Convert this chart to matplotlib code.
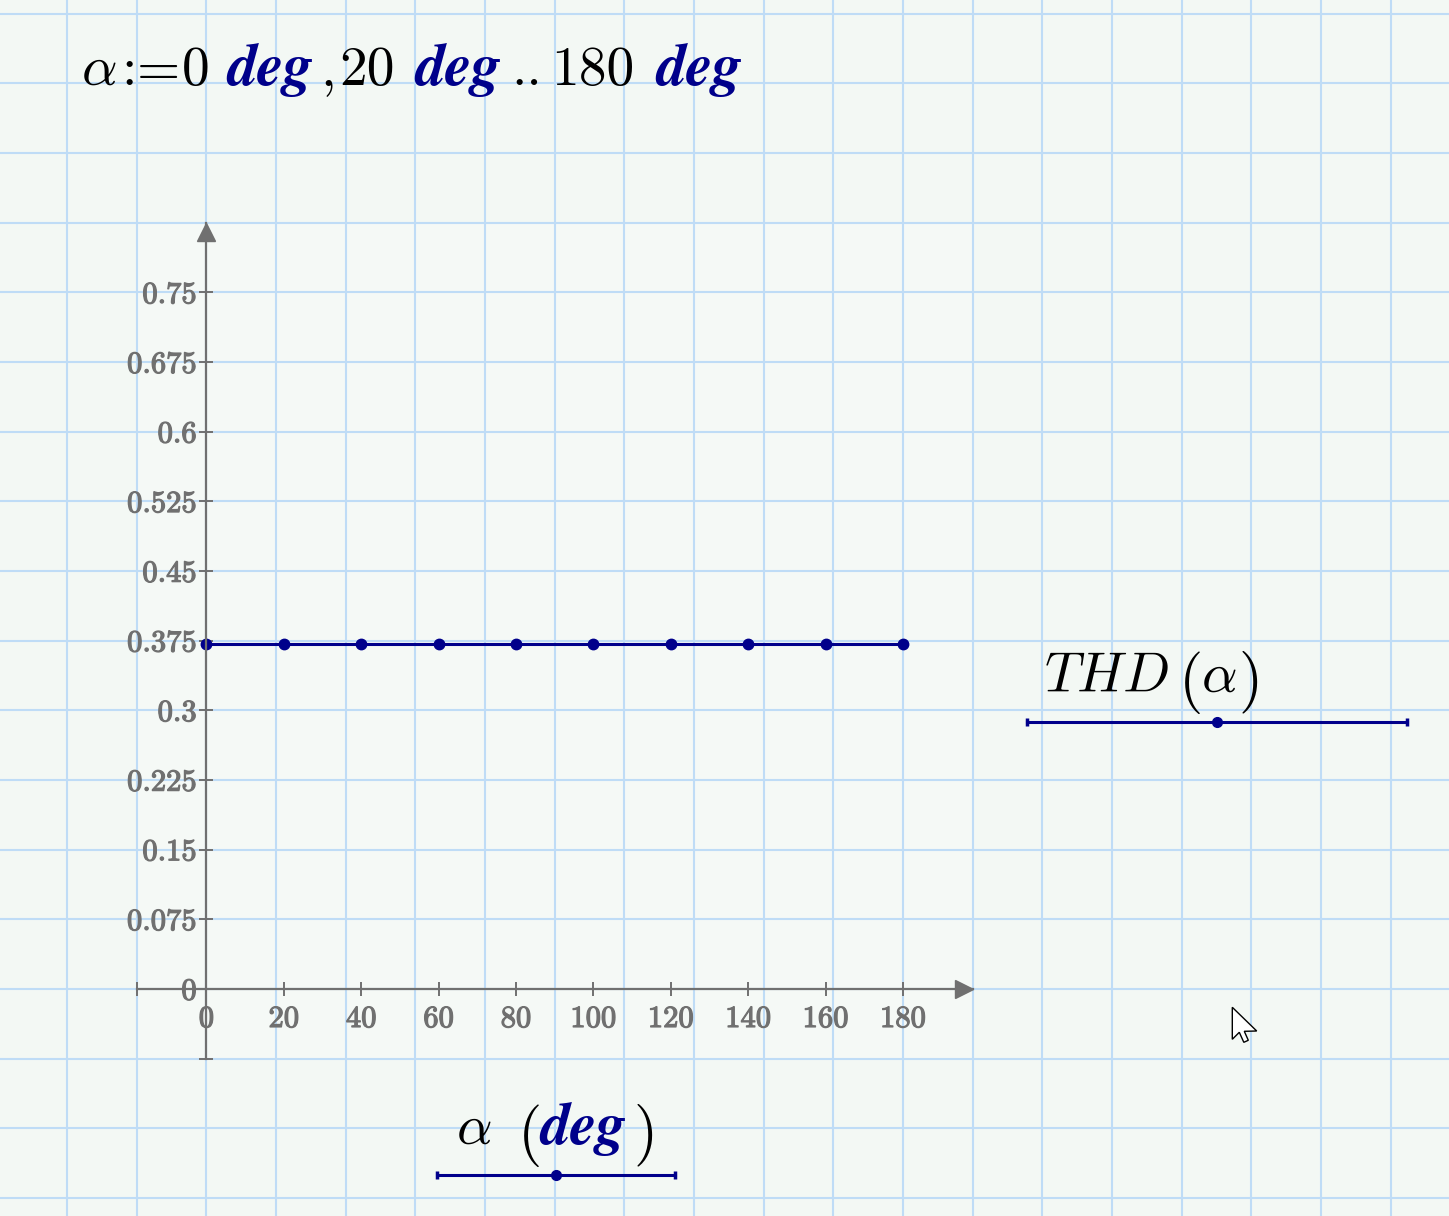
import numpy as np
import matplotlib.pyplot as plt
import matplotlib.patheffects as pe
from matplotlib.patches import Polygon, Rectangle

plt.rcParams['mathtext.fontset'] = 'cm'

# data
alpha_deg = [0, 20, 40, 60, 80, 100, 120, 140, 160, 180]
thd = [0.371, 0.371, 0.371, 0.371, 0.371, 0.371, 0.371, 0.371, 0.371, 0.371]
x_ticks = [0, 20, 40, 60, 80, 100, 120, 140, 160, 180]
y_ticks = [0, 0.075, 0.15, 0.225, 0.3, 0.375, 0.45, 0.525, 0.6, 0.675, 0.75]
y_tick_labels = ['0', '0.075', '0.15', '0.225', '0.3', '0.375', '0.45',
                 '0.525', '0.6', '0.675', '0.75']

# colours
page = '#f3f8f4'
plot_bg = '#f5f9f6'
grid_c = '#bfdcf6'
navy = '#00008b'
gray = '#707070'

W, H = 1449, 1216
cell = 69.65

fig = plt.figure(figsize=(W / 100, H / 100), dpi=100, facecolor=page)

# worksheet background in pixel coordinates
bg = fig.add_axes([0, 0, 1, 1])
bg.set_xlim(0, W)
bg.set_ylim(H, 0)
bg.axis('off')
bg.vlines(np.arange(-2.5, W, cell), 0, H, color=grid_c, lw=1.5)
bg.hlines(np.arange(13.75, H, cell), 0, W, color=grid_c, lw=1.5)
bg.add_patch(Rectangle((137.3, 224), 837, 835, fc=plot_bg, ec='none'))

# plot region
left, top = 136.8, 222.7
size = 12 * cell
ax = fig.add_axes([left / W, 1 - (top + size) / H, size / W, size / H])
ax.patch.set_alpha(0)
ax.set_xlim(-18, 198)
ax.set_ylim(-0.075, 0.825)

for s in ['top', 'right']:
    ax.spines[s].set_visible(False)
for s in ['left', 'bottom']:
    ax.spines[s].set_position(('data', 0))
    ax.spines[s].set_color(gray)
    ax.spines[s].set_linewidth(1.6)

ax.set_xticks(x_ticks)
ax.set_xticklabels([str(v) for v in x_ticks])
ax.set_yticks(y_ticks)
ax.set_yticklabels(y_tick_labels)
ax.tick_params(direction='inout', length=10, width=1.4, color=gray,
               labelcolor=gray, labelsize=22)
ax.tick_params(axis='x', pad=7)
ax.tick_params(axis='y', pad=2)
for lbl in ax.get_xticklabels() + ax.get_yticklabels():
    lbl.set_fontfamily('cmr10')
    lbl.set_path_effects([pe.withStroke(linewidth=0.9, foreground=gray)])

# axis arrows and end caps
ax.plot(1 - 9 / size, 0, '>', ms=13, color=gray,
        transform=ax.get_yaxis_transform(), clip_on=False)
ax.plot(0, 1 - 9 / size, '^', ms=13, color=gray,
        transform=ax.get_xaxis_transform(), clip_on=False)
ax.plot(0, 0, '|', ms=10, mew=1.4, color=gray,
        transform=ax.get_yaxis_transform(), clip_on=False)
ax.plot(0, 0, '_', ms=10, mew=1.4, color=gray,
        transform=ax.get_xaxis_transform(), clip_on=False)

ax.plot(alpha_deg, thd, color=navy, lw=2.2, marker='o', ms=7.5, zorder=2)

# worksheet text, drawn over everything
top_ax = fig.add_axes([0, 0, 1, 1])
top_ax.set_xlim(0, W)
top_ax.set_ylim(H, 0)
top_ax.axis('off')
top_ax.patch.set_alpha(0)


def black(x, y, s, fs=40):
    top_ax.text(x, y, s, color='black', fontsize=fs, va='baseline',
                ha='left', family='cmr10')


def unit(x, y, s='deg'):
    top_ax.text(x, y, s, color=navy, fontsize=43, va='baseline', ha='left',
                family='STIXGeneral', weight='bold', style='italic')


# range definition
black(81, 85, r'$\alpha$')
black(121, 85, ':')
black(137, 85, '=')
black(182, 85, '0')
unit(227, 85)
black(320, 85, ',')
black(339, 85, '20')
unit(415, 85)
black(511, 85, '..')
black(551, 85, '180')
unit(656, 85)

# y trace label
black(1044, 692, r'$THD$')
black(1179, 698, '(', fs=45)
black(1201, 692, r'$\alpha$')
black(1239, 698, ')', fs=45)

# x trace label
black(456, 1144, r'$\alpha$')
black(518, 1151, '(', fs=45)
unit(540, 1144)
black(634, 1151, ')', fs=45)

# trace markers under the labels
for x0, x1, y in [(437, 675, 1175), (1027, 1407, 722)]:
    top_ax.plot([x0, x1], [y, y], color=navy, lw=2.2)
    top_ax.plot([x0, x1], [y, y], '|', color=navy, ms=6, mew=2.5)
    top_ax.plot([(x0 + x1) / 2], [y], 'o', color=navy, ms=7)

# mouse pointer
tip = np.array([1232.3, 1007.3])
pts = np.array([[0, 0], [0, 32], [7, 25], [11.5, 35], [16, 33],
                [12, 24], [24.4, 23.7]]) + tip
top_ax.add_patch(Polygon(pts, closed=True, fc='white', ec='black', lw=1))

fig.savefig('out.png', dpi=100, facecolor=page)
